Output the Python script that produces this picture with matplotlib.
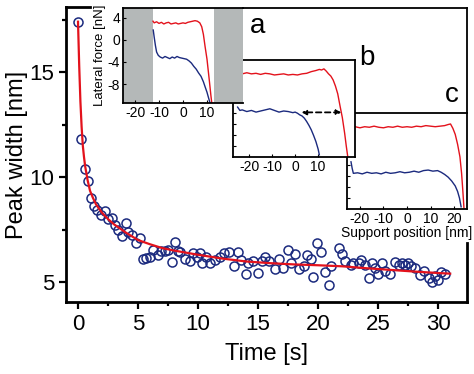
import matplotlib
matplotlib.use("Agg")
import matplotlib.pyplot as plt
from matplotlib.lines import Line2D
from matplotlib.ticker import MultipleLocator

plt.rcParams['font.family'] = ['Liberation Sans', 'DejaVu Sans']
plt.rcParams['axes.unicode_minus'] = False

# main data: peak width vs time
t_pts = [0.0, 0.25, 0.55, 0.85, 1.1, 1.35, 1.6, 1.9, 2.25, 2.5, 2.85, 3.1, 3.35, 3.7,
         4.0, 4.15, 4.5, 4.8, 5.2, 5.45, 5.7, 6.0, 6.25, 6.65, 6.95, 7.25, 7.5, 7.8,
         8.05, 8.3, 8.5, 8.9, 9.3, 9.55, 9.9, 10.15, 10.3, 10.7, 11.0, 11.4, 11.8,
         12.2, 12.6, 13.0, 13.3, 13.6, 14.0, 14.2, 14.6, 15.0, 15.3, 15.6, 15.9, 16.4,
         16.7, 17.1, 17.5, 17.7, 18.1, 18.4, 18.8, 19.1, 19.4, 19.6, 19.9, 20.2, 20.6,
         20.9, 21.1, 21.7, 22.0, 22.25, 22.7, 22.9, 23.4, 23.6, 23.9, 24.2, 24.5,
         24.75, 25.0, 25.3, 25.6, 26.0, 26.4, 26.7, 27.0, 27.25, 27.5, 27.7, 28.1,
         28.5, 28.8, 29.2, 29.5, 29.75, 30.0, 30.2, 30.6]
w_pts = [17.4, 11.8, 10.4, 9.8, 9.0, 8.6, 8.45, 8.2, 8.4, 8.0, 8.05, 7.7, 7.5, 7.2,
         7.8, 7.4, 7.25, 6.85, 7.1, 6.1, 6.15, 6.2, 6.55, 6.3, 6.5, 6.5, 6.55, 5.95,
         6.9, 6.5, 6.45, 6.1, 6.0, 6.4, 6.2, 6.4, 5.9, 6.2, 5.9, 6.05, 6.2,
         6.4, 6.45, 5.75, 6.45, 6.05, 5.4, 5.9, 6.0, 5.45, 6.0, 6.2, 6.0, 5.6,
         6.1, 5.65, 6.55, 5.9, 6.35, 5.6, 5.75, 6.3, 6.1, 5.25, 6.85, 6.45, 5.5,
         4.85, 5.75, 6.6, 6.35, 6.0, 5.8, 5.9, 5.9, 6.05, 5.8, 5.2, 5.9,
         5.65, 5.4, 5.9, 5.55, 5.4, 5.95, 5.8, 5.9, 5.8, 5.9, 5.75, 5.65,
         5.35, 5.55, 5.2, 5.0, 5.3, 5.1, 5.5, 5.4]

# fitted curve
t_fit = [0, 0.1, 0.2, 0.3, 0.4, 0.5, 0.6, 0.8, 1.0, 1.25, 1.5, 2, 2.5, 3, 4, 5, 6, 7,
         8, 9, 10, 12, 14, 16, 18, 20, 22, 24, 26, 28, 30, 31]
w_fit = [17.4, 15.3, 13.6, 12.4, 11.5, 10.95, 10.5, 9.85, 9.35, 9.0, 8.7, 8.3, 8.0,
         7.75, 7.35, 7.0, 6.8, 6.62, 6.5, 6.4, 6.3, 6.12, 5.98, 5.9, 5.84, 5.8, 5.75,
         5.66, 5.58, 5.5, 5.43, 5.4]

# inset a
xa_red = [-12.5, -12, -11, -10, -9, -8, -7, -6, -5, -4, -3, -2, -1, 0, 1, 2, 3, 4, 5,
          6, 7, 7.8, 8.5, 9.2, 10, 10.5, 11, 11.6, 12]
ya_red = [3.4, 3.1, 3.3, 3.0, 3.2, 2.9, 3.1, 3.2, 2.9, 3.0, 3.1, 2.9, 3.0, 3.1, 3.0,
          3.2, 3.3, 3.4, 3.5, 3.4, 3.1, 2.4, 1.0, -1.2, -3.5, -5.5, -7.5, -10, -11.5]
xa_blue = [-12.4, -12.0, -11.5, -11, -10.3, -9.5, -8.5, -7.5, -6.5, -5.5, -4.5, -3.5,
           -2.5, -1.5, -0.5, 0.5, 1.5, 2.5, 3.5, 4.5, 5.5, 6.5, 7.5, 8.5, 9.2, 10,
           10.7, 11.3]
ya_blue = [1.8, 0.5, -1.0, -2.2, -2.8, -3.1, -3.3, -3.0, -3.2, -3.4, -3.1, -3.3, -3.0,
           -3.2, -3.3, -3.4, -3.5, -3.8, -4.2, -4.8, -5.3, -6.0, -6.6, -7.6, -8.5,
           -9.5, -10.6, -11.5]

# inset b
xb_red = [-25, -23, -21, -19, -17, -15, -13, -11, -9, -7, -5, -3, -1, 1, 3, 5, 7, 9,
          10.5, 11.5, 12.5, 13.5, 14.5, 15.5, 16.5, 17.5, 18.5, 19.5, 20.5, 21.5,
          22.2, 22.8]
yb_red = [3.2, 3.0, 3.2, 3.0, 3.1, 2.9, 3.1, 3.0, 2.8, 2.9, 3.0, 2.8, 2.9, 2.8, 3.0,
          3.1, 3.4, 3.6, 3.8, 3.7, 3.9, 3.5, 3.0, 2.6, 1.9, 0.8, -0.6, -2.8, -4.9,
          -7.7, -10, -11.8]
xb_blue = [-25, -24, -23, -21, -19, -17, -15, -13, -11, -9, -7, -5, -3, -1, 0, 1, 2,
           3, 4, 5, 6, 7, 8, 9, 10, 10.5]
yb_blue = [-3.0, -3.6, -3.5, -3.8, -3.6, -3.9, -3.7, -3.5, -3.3, -3.6, -3.9, -3.7,
           -3.8, -4.0, -3.9, -4.1, -4.4, -4.6, -5.0, -5.6, -6.3, -7.1, -8.1, -9.2,
           -10.6, -11.6]
arrow_x = [2.7, 20.1]
arrow_y = -3.95

# inset c
xc_red = [-24, -22, -20, -18, -16, -14, -12, -10, -8, -6, -4, -2, 0, 2, 4, 6, 8, 10,
          12, 14, 16, 17.5, 18.5, 19.5, 20.5, 21.5, 22.5, 23.2, 23.7, 24.2]
yc_red = [2.9, 3.0, 2.8, 3.0, 2.9, 3.1, 2.9, 2.8, 3.0, 2.9, 3.1, 2.9, 3.0, 2.9, 3.1,
          3.0, 3.2, 3.1, 3.0, 3.1, 3.2, 3.4, 3.5, 2.7, 1.6, -0.2, -2.5, -5.5, -8.5,
          -11.8]
xc_blue = [-23.8, -23.3, -22.8, -21, -19, -17, -15, -13, -11, -9, -7, -5, -3, -1, 1,
           3, 5, 7, 9, 11, 13, 14.5, 16, 17.5, 19, 20.5, 21.5, 22.3, 23]
yc_blue = [-3.4, -4.6, -5.5, -5.4, -5.6, -5.3, -5.5, -5.4, -5.6, -5.3, -5.5, -5.4,
           -5.2, -5.4, -5.3, -5.1, -5.3, -5.0, -4.9, -5.1, -5.0, -5.3, -5.7, -6.2,
           -6.9, -7.8, -8.8, -10, -11.6]

W, H = 474, 374
RED = '#e3121c'
BLUE = '#1b2a7e'
GRAY = '#b4b8b8'


def rect(x0, y0, x1, y1):
    # pixel box (top-left origin) -> figure fraction
    return [x0 / W, 1 - y1 / H, (x1 - x0) / W, (y1 - y0) / H]


def fline(x0, y0, x1, y1, lw=1.3):
    fig.add_artist(Line2D([x0 / W, x1 / W], [1 - y0 / H, 1 - y1 / H],
                          transform=fig.transFigure, color='black', lw=lw))


fig = plt.figure(figsize=(4.74, 3.74), dpi=100)

# ---- main plot ----
ax = fig.add_axes(rect(66, 7, 467, 302))
ax.plot(t_fit, w_fit, color=RED, lw=1.6, zorder=3)
ax.plot(t_pts, w_pts, 'o', mfc='none', mec=BLUE, ms=6.5, mew=1.1, zorder=2)
ax.set_xlim(-1, 32.4)
ax.set_ylim(4.05, 18.1)
ax.xaxis.set_major_locator(MultipleLocator(5))
ax.xaxis.set_minor_locator(MultipleLocator(2.5))
ax.yaxis.set_major_locator(MultipleLocator(5))
ax.yaxis.set_minor_locator(MultipleLocator(2.5))
ax.spines['top'].set_visible(False)
ax.spines['right'].set_visible(False)
for s in ('left', 'bottom'):
    ax.spines[s].set_linewidth(2)
ax.tick_params(which='major', direction='out', length=5, width=1.6, labelsize=16)
ax.tick_params(which='minor', direction='out', length=3, width=1.6)
ax.set_xlabel('Time [s]', fontsize=17, labelpad=6)
ax.set_ylabel('Peak width [nm]', fontsize=17, labelpad=1)

fline(66, 7, 90, 7, lw=2)
fline(467, 243, 467, 302, lw=2)


def inset(box, xlim, ylim):
    a = fig.add_axes(rect(*box))
    a.set_xlim(*xlim)
    a.set_ylim(*ylim)
    for s in a.spines.values():
        s.set_linewidth(1.3)
    a.tick_params(direction='in', length=2.5, width=0.8, labelsize=10, pad=2)
    return a


# ---- inset c (bottom of the stack) ----
axc = inset((347, 113, 467, 209), (-25.5, 25.5), (-12, 5.5))
axc.plot(xc_red, yc_red, color=RED, lw=1)
axc.plot(xc_blue, yc_blue, color=BLUE, lw=1)
axc.set_xticks([-20, -10, 0, 10, 20])
axc.set_yticks([-10, -8, -6, -4, -2, 0, 2, 4])
axc.set_yticklabels([])
axc.set_xlabel('Support position [nm]', fontsize=10, labelpad=0)

# ---- inset b ----
axb = inset((233, 60, 355, 157), (-27, 26), (-12, 5.5))
axb.plot(xb_red, yb_red, color=RED, lw=1)
axb.plot(xb_blue, yb_blue, color=BLUE, lw=1)
axb.annotate('', xy=(arrow_x[0], arrow_y), xytext=(arrow_x[1], arrow_y),
             arrowprops=dict(arrowstyle='<|-|>', linestyle=(0, (3, 2)), color='black',
                             lw=1.3, mutation_scale=7, shrinkA=0, shrinkB=0))
axb.set_xticks([-20, -10, 0, 10])
axb.set_yticks([-10, -8, -6, -4, -2, 0, 2, 4])
axb.set_yticklabels([])

# ---- inset a (top of the stack) ----
axa = inset((123, 8, 243, 103), (-25, 25), (-11.45, 5.8))
axa.axvspan(-25, -12.5, color=GRAY, lw=0)
axa.axvspan(13, 25, color=GRAY, lw=0)
axa.plot(xa_red, ya_red, color=RED, lw=1)
axa.plot(xa_blue, ya_blue, color=BLUE, lw=1)
axa.spines['right'].set_visible(False)
axa.set_xticks([-20, -10, 0, 10])
axa.set_yticks([4, 0, -4, -8])
axa.set_ylabel('Lateral force [nN]', fontsize=9.5, labelpad=1)

# extended frame of box a
fline(243, 8, 467, 8)
fline(467, 8, 467, 113)

fig.text(258 / W, 1 - 26 / H, 'a', fontsize=20, ha='center', va='center')
fig.text(367 / W, 1 - 58 / H, 'b', fontsize=20, ha='center', va='center')
fig.text(452 / W, 1 - 95 / H, 'c', fontsize=20, ha='center', va='center')

fig.savefig('out.png', dpi=100)
